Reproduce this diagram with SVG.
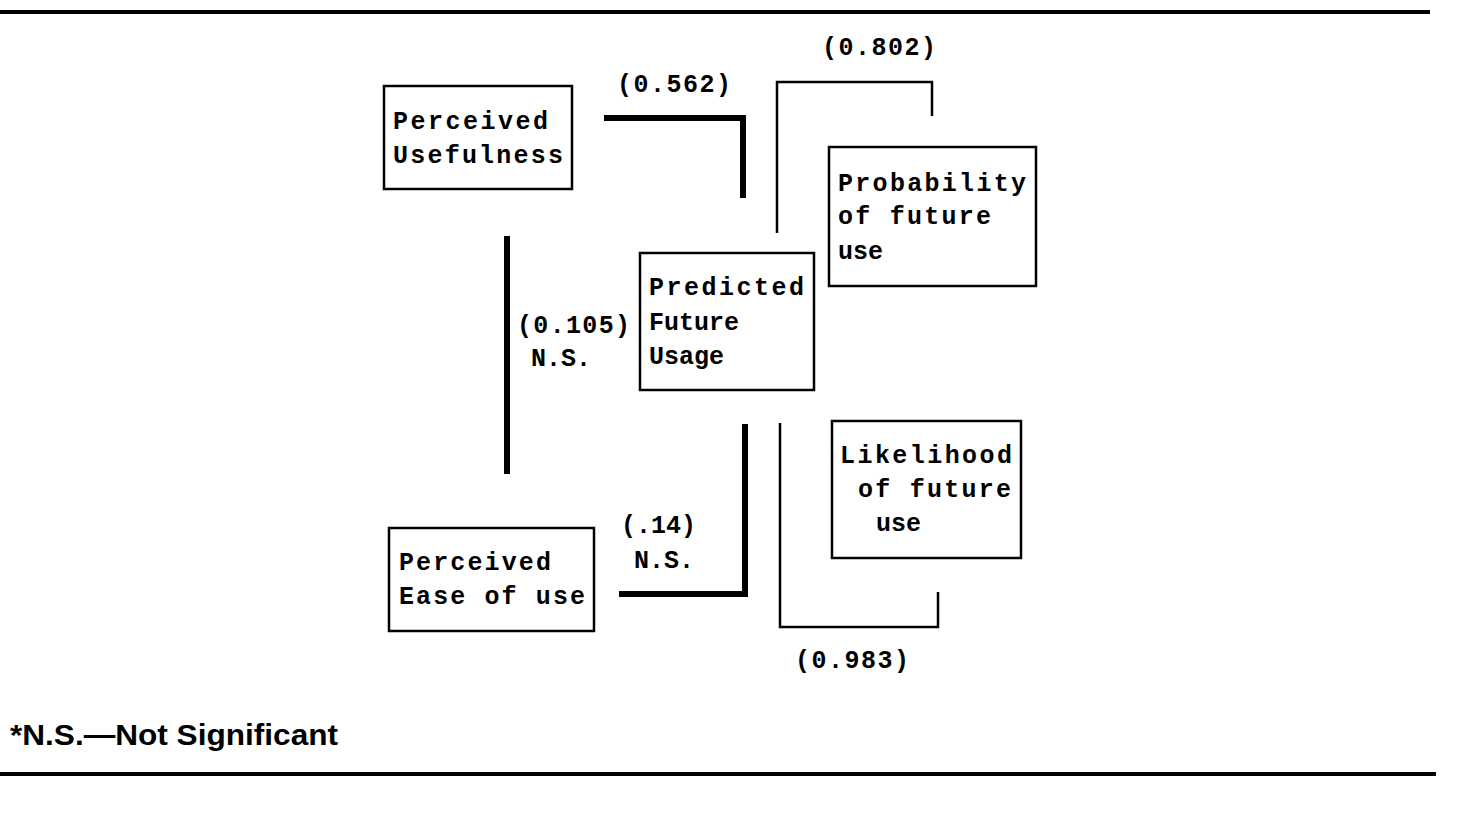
<svg xmlns="http://www.w3.org/2000/svg" width="1461" height="828" viewBox="0 0 1461 828">
<style>
.b{fill:#fff;stroke:#000;stroke-width:2.5}
.t{font-family:"Liberation Mono",monospace;font-weight:bold;font-size:25px;fill:#000}
.k{fill:none;stroke:#000;stroke-width:6}
.n{fill:none;stroke:#000;stroke-width:2.5}
</style>
<rect width="1461" height="828" fill="#fff"/>
<line x1="0" y1="12" x2="1430" y2="12" stroke="#000" stroke-width="4"/>
<line x1="0" y1="774" x2="1436" y2="774" stroke="#000" stroke-width="4"/>
<g id="connectors">
<polyline class="k" points="604,118 743,118 743,198"/>
<polyline class="n" points="777,233 777,82 932,82 932,116"/>
<line class="k" x1="507" y1="236" x2="507" y2="474"/>
<polyline class="k" points="745,424 745,594 619,594"/>
<polyline class="n" points="780,423 780,627 938,627 938,592"/>
</g>
<g id="labels" class="t">
<text x="617" y="92" textLength="114">(0.562)</text>
<text x="822" y="55" textLength="114">(0.802)</text>
<text x="517" y="333" textLength="113">(0.105)</text>
<text x="531" y="366">N.S.</text>
<text x="621" y="533">(.14)</text>
<text x="634" y="568">N.S.</text>
<text x="795" y="668" textLength="114">(0.983)</text>
</g>
<g id="pu"><rect class="b" x="384" y="86" width="188" height="103"/>
<text class="t" x="393" y="129" textLength="155">Perceived</text><text class="t" x="393" y="163" textLength="170">Usefulness</text></g>
<g id="prob"><rect class="b" x="829" y="147" width="207" height="139"/>
<text class="t" x="838" y="191" textLength="188">Probability</text><text class="t" x="838" y="224" textLength="153">of future</text><text class="t" x="838" y="259">use</text></g>
<g id="pfu"><rect class="b" x="640" y="253" width="174" height="137"/>
<text class="t" x="649" y="295" textLength="155">Predicted</text><text class="t" x="649" y="330">Future</text><text class="t" x="649" y="364">Usage</text></g>
<g id="lik"><rect class="b" x="832" y="421" width="189" height="137"/>
<text class="t" x="840" y="463" textLength="172">Likelihood</text><text class="t" x="858" y="497" textLength="153">of future</text><text class="t" x="876" y="531">use</text></g>
<g id="peu"><rect class="b" x="389" y="528" width="205" height="103"/>
<text class="t" x="399" y="570" textLength="152">Perceived</text><text class="t" x="399" y="604" textLength="186">Ease of use</text></g>
<text x="10" y="745" font-family="Liberation Sans,Arial,sans-serif" font-size="30" font-weight="bold" textLength="328" lengthAdjust="spacingAndGlyphs">*N.S.—Not Significant</text>
</svg>
